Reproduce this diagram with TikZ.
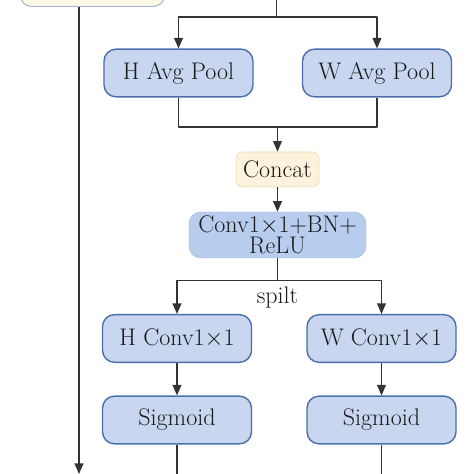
\documentclass[tikz,border=0pt]{standalone}
\usetikzlibrary{arrows.meta}
\definecolor{boxfill}{HTML}{C8D6EF}
\definecolor{boxline}{HTML}{4B6EAF}
\definecolor{catfill}{HTML}{FDF2DC}
\definecolor{catline}{HTML}{F0DDB8}
\definecolor{convfill}{HTML}{B6CDEE}
\definecolor{inline}{HTML}{A8B6D8}
\definecolor{infill}{HTML}{FFFBE6}
\begin{document}
\begin{tikzpicture}[x=0.03cm, y=0.03cm, line join=round, >={Triangle[length=9pt,width=7.5pt]}]
\tikzset{every node/.style={font=\fontsize{20.5}{22}\selectfont, text=black!90},
  blk/.style={draw=boxline, fill=boxfill, line width=1.2pt, rounded corners=0.36cm,
    minimum width=4.47cm, minimum height=1.43cm, inner sep=0pt},
  wire/.style={line width=1.2pt, draw=black!80}}
\useasboundingbox (0,0) rectangle (474,474);
\clip (0,0) rectangle (474,474);
% input box, cut at the top
\node[draw=inline, fill=infill, line width=0.9pt, rounded corners=0.36cm, minimum width=4.35cm,
  minimum height=1.44cm, anchor=south] (inp) at (92.5,467) {};
\coordinate (skip) at (79,0);
\coordinate (top) at (276.5,474);
% pooling
\node[blk] (hpool) at (178.5,401) {H Avg Pool};
\node[blk] (wpool) at (377,401) {W Avg Pool};
\node[draw=catline, fill=catfill, line width=0.6pt, rounded corners=0.2cm, minimum width=2.49cm,
  minimum height=1.05cm, inner sep=0pt] (cat) at (277.5,304.5) {Concat};
\node[draw=convfill!90!black!100, fill=convfill, line width=0.4pt, rounded corners=0.36cm,
  minimum width=5.31cm, minimum height=1.38cm, inner sep=0pt, align=center,
  font=\fontsize{20.5}{18}\selectfont] (conv) at (277.5,239) {Conv1$\times$1+BN+\\ReLU};
% split branches
\node[blk] (hconv) at (177,135.5) {H Conv1$\times$1};
\node[blk] (wconv) at (381.5,135.5) {W Conv1$\times$1};
\node[blk] (hsig) at (177,54) {Sigmoid};
\node[blk] (wsig) at (381.5,54) {Sigmoid};
\node (spl) at (277.5,176) {spilt};
% connectors
\draw[wire,->] (inp.south -| skip) -- (skip);
\draw[wire] (top) -- ++(0,-17) coordinate (fork);
\draw[wire,->] (fork) -| (hpool.north);
\draw[wire,->] (fork) -| (wpool.north);
\draw[wire] (hpool.south) |- (277.5,347) coordinate (join) -| (wpool.south);
\draw[wire,->] (join) -- (cat.north);
\draw[wire,->] (cat.south) -- (conv.north);
\draw[wire] (conv.south) -- ++(0,-22) coordinate (sp);
\draw[wire,->] (sp) -| (hconv.north);
\draw[wire,->] (sp) -| (wconv.north);
\draw[wire,->] (hconv.south) -- (hsig.north);
\draw[wire,->] (wconv.south) -- (wsig.north);
\draw[wire] (hsig.south) -- (hsig.south |- skip);
\draw[wire] (wsig.south) -- (wsig.south |- skip);
\end{tikzpicture}
\end{document}
